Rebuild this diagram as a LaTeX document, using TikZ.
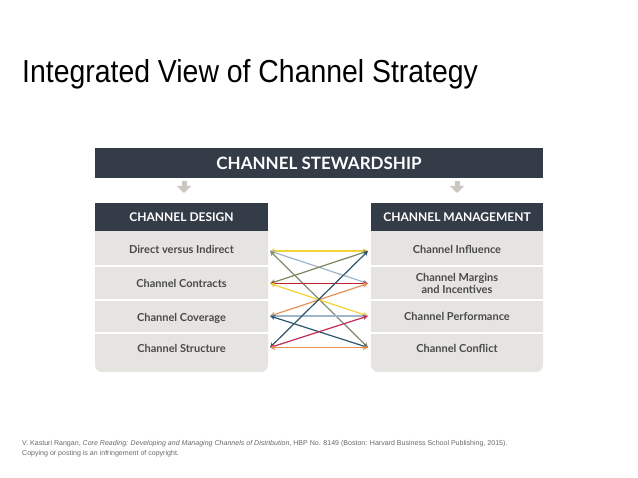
\documentclass[tikz,border=0pt]{standalone}
\usepackage{fontspec}
\setmainfont{Liberation Sans}
\newfontfamily\lato{Lato}
\usetikzlibrary{arrows.meta}
\definecolor{navy}{HTML}{343C48}
\definecolor{bodygray}{HTML}{E6E4E1}
\definecolor{arrowgray}{HTML}{CAC7C1}
\definecolor{rowtxt}{HTML}{4A4A4A}
\definecolor{footgray}{HTML}{6A6A6A}
\definecolor{cyellow}{HTML}{F2D43A}
\definecolor{clblue}{HTML}{9FB6CA}
\definecolor{colive}{HTML}{7E8B6C}
\definecolor{cgreen}{HTML}{76895A}
\definecolor{cred}{HTML}{C3232E}
\definecolor{corange}{HTML}{E8925A}
\definecolor{cteal}{HTML}{2D566E}
\definecolor{cmag}{HTML}{C22A58}
\definecolor{corange2}{HTML}{E98F4E}
\tikzset{
  darkbar/.style={fill=navy, draw=none},
  bartext/.style={text=white, font=\lato\bfseries\fontsize{17}{20}\selectfont, inner sep=0pt},
  headtext/.style={text=white, font=\lato\bfseries\fontsize{12}{14}\selectfont, inner sep=0pt},
  rowtext/.style={text=rowtxt, font=\lato\bfseries\fontsize{11}{12}\selectfont, align=center, inner sep=0pt},
  downarrow/.style={draw=arrowgray, line width=5pt, -{Triangle[width=14pt,length=7pt]}},
  link/.style={line width=1.2pt, {Stealth[length=5pt,width=5pt]}-{Stealth[length=5pt,width=5pt]}},
  sep/.style={draw=white, line width=1.2pt},
}
\begin{document}
\begin{tikzpicture}[x=1pt,y=-1pt]
\useasboundingbox[fill=white] (0,0) rectangle (638,478);

% title
\node[anchor=base west, inner sep=0pt] (title) at (22,83)
  {\scalebox{1}[1.12]{\fontsize{28.4}{32}\selectfont Integrated View of Channel Strategy}};

% stewardship bar
\fill[darkbar] (95,148) rectangle (543,178);
\node[bartext] (stew) at (319,163) {CHANNEL STEWARDSHIP};
\coordinate (stewL) at (184,178);
\coordinate (stewR) at (457,178);

% bodies
\fill[bodygray, rounded corners=7pt] (95,215) rectangle (268,372);
\fill[bodygray, rounded corners=7pt] (371,215) rectangle (543,372);

% headers
\fill[darkbar] (95,203) rectangle (268,231);
\fill[darkbar] (371,203) rectangle (543,231);
\node[headtext] (dhead) at (181.5,217) {CHANNEL DESIGN};
\node[headtext] (mhead) at (457,217) {CHANNEL MANAGEMENT};
\coordinate (dheadN) at (184,203);
\coordinate (mheadN) at (457,203);

% gray arrows
\draw[downarrow, shorten <=3pt, shorten >=10pt] (stewL) -- (dheadN);
\draw[downarrow, shorten <=3pt, shorten >=10pt] (stewR) -- (mheadN);

% separators
\foreach \yy in {266,300,333} {
  \draw[sep] (95,\yy) -- (268,\yy);
  \draw[sep] (371,\yy) -- (543,\yy);
}

% rows
\node[rowtext] (d1) at (181.5,249) {Direct versus Indirect};
\node[rowtext] (d2) at (181.5,283) {Channel Contracts};
\node[rowtext] (d3) at (181.5,318) {Channel Coverage};
\node[rowtext] (d4) at (181.5,348) {Channel Structure};
\node[rowtext] (m1) at (457,249) {Channel Influence};
\node[rowtext] (m2) at (457,283) {Channel Margins\\and Incentives};
\node[rowtext] (m3) at (457,316) {Channel Performance};
\node[rowtext] (m4) at (457,348) {Channel Conflict};

% link end points
\coordinate (L1) at (270,251);
\coordinate (L2) at (270,283.5);
\coordinate (L3) at (270,316);
\coordinate (L4) at (270,347.5);
\coordinate (R1) at (368,251);
\coordinate (R2) at (368,283.5);
\coordinate (R3) at (368,316);
\coordinate (R4) at (368,347.5);

% links
\draw[link, cyellow] (L1) -- (R1);
\draw[link, clblue] (L1) -- (R2);
\draw[link, colive] (L1) -- (R4);
\draw[link, cgreen] (L2) -- (R1);
\draw[link, cred] (L2) -- (R2);
\draw[link, cyellow] (L2) -- (R3);
\draw[link, corange] (L3) -- (R2);
\draw[link, clblue] (L3) -- (R3);
\draw[link, cteal] (L3) -- (R4);
\draw[link, cteal] (L4) -- (R1);
\draw[link, cmag] (L4) -- (R3);
\draw[link, corange2] (L4) -- (R4);

% footer
\node[anchor=base west, inner sep=0pt, text=footgray, font=\fontsize{7.05}{8}\selectfont] (foot1) at (22,446)
  {V. Kasturi Rangan, \textit{Core Reading: Developing and Managing Channels of Distribution}, HBP No. 8149 (Boston: Harvard Business School Publishing, 2015).};
\node[anchor=base west, inner sep=0pt, text=footgray, font=\fontsize{7.05}{8}\selectfont] (foot2) at (22,456)
  {Copying or posting is an infringement of copyright.};
\end{tikzpicture}
\end{document}
